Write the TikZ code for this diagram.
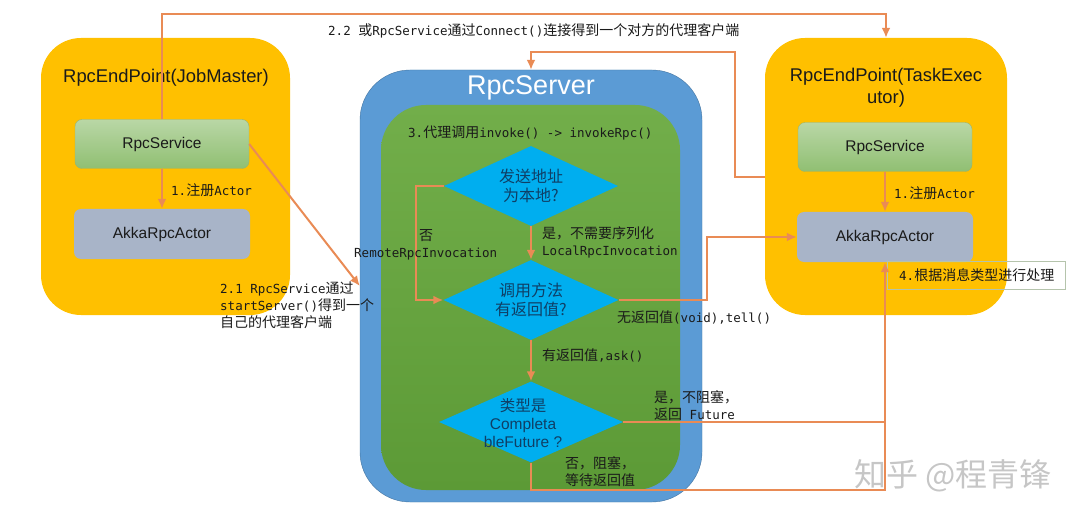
\documentclass[tikz,border=0pt]{standalone}
\usepackage{fontspec}
\setmainfont{Liberation Sans}
\setmonofont{DejaVu Sans Mono}
\newfontfamily\cjk{Noto Sans CJK SC}
\usetikzlibrary{shapes.geometric,arrows.meta}

\definecolor{amber}{HTML}{FFC000}
\definecolor{serverblue}{HTML}{5B9BD5}
\definecolor{flow}{HTML}{E98B55}
\definecolor{ink}{HTML}{1A1A1A}
\definecolor{choicefill}{HTML}{00AEEF}
\definecolor{choiceink}{HTML}{0F3F66}
\definecolor{serviceline}{HTML}{9DB36A}
\definecolor{servicetop}{HTML}{B9D7A6}
\definecolor{servicebottom}{HTML}{90BF72}
\definecolor{actorfill}{HTML}{A8B4C8}
\definecolor{innertop}{HTML}{72AE4A}
\definecolor{innerbottom}{HTML}{5C9A36}
\definecolor{boxline}{HTML}{B5C4AC}

\newcommand{\zh}[1]{{\cjk\fontsize{14}{17}\selectfont #1}}

\tikzset{
    endpoint/.style={fill=amber, rounded corners=40pt, minimum width=249pt, minimum height=277pt, inner sep=0pt},
    title/.style={font=\fontsize{18.4}{22}\selectfont, text=ink, align=center, inner sep=0pt},
    service/.style={draw=serviceline, top color=servicetop, bottom color=servicebottom, rounded corners=7pt, minimum width=174pt, minimum height=49pt, inner sep=0pt, font=\fontsize{15.5}{18}\selectfont, text=ink},
    actor/.style={fill=actorfill, rounded corners=7pt, minimum width=176pt, minimum height=50pt, inner sep=0pt, font=\fontsize{15.5}{18}\selectfont, text=ink},
    choice/.style={diamond, fill=choicefill, aspect=2.2, inner sep=0pt, align=center, text=choiceink, font=\fontsize{16}{19}\selectfont},
    note/.style={font=\ttfamily\fontsize{12.5}{17}\selectfont, text=ink, align=left, anchor=west, inner sep=0pt},
    flowline/.style={draw=flow, line width=2pt},
    flowarrow/.style={flowline, -{Latex[length=10pt,width=9pt]}},
}

\begin{document}
\begin{tikzpicture}[x=1pt,y=-1pt]

    \useasboundingbox (0,0) rectangle (1080,516);

    % Endpoints
    \node [endpoint] (epL) at (165.5,176.5) {};
    \node [endpoint, minimum width=242pt] (epR) at (886,176.5) {};
    \node [title] (titleL) at (166,78) {RpcEndPoint(JobMaster)};
    \node [title] (titleR) at (886,88) {RpcEndPoint(TaskExec\\utor)};

    % Services and actors
    \node [service] (svcL) at (162,144) {RpcService};
    \node [actor] (actL) at (162,234) {AkkaRpcActor};
    \node [service] (svcR) at (885,147) {RpcService};
    \node [actor] (actR) at (885,237) {AkkaRpcActor};

    % Server
    \node [fill=serverblue, draw=serverblue!75!black, rounded corners=50pt, minimum width=342pt, minimum height=432pt, inner sep=0pt] (server) at (531,286) {};
    \node [top color=innertop, bottom color=innerbottom, rounded corners=45pt, minimum width=299pt, minimum height=385pt, inner sep=0pt] (inner) at (530.5,297.5) {};
    \node [font=\fontsize{27}{30}\selectfont, text=white, inner sep=0pt] (serverName) at (531,88) {RpcServer};

    % Decisions
    \node [choice, minimum width=174pt, minimum height=80pt] (d1) at (531,186) {\cjk 发送地址\\\cjk 为本地?};
    \node [choice, minimum width=175pt, minimum height=80pt] (d2) at (531,300) {\cjk 调用方法\\\cjk 有返回值?};
    \node [choice, minimum width=184pt, minimum height=81pt] (d3) at (531,422) {};
    \node [align=center, text=choiceink, inner sep=0pt, font=\fontsize{15.5}{18}\selectfont] (d3text) at (523,423) {\cjk 类型是\\Completa\\bleFuture ?};

    % Note box
    \node [draw=boxline, minimum width=178pt, minimum height=28pt, inner sep=0pt] (box) at (976,275) {};

    % Bends
    \coordinate (top) at (500,14);
    \coordinate (backA) at (765,177);
    \coordinate (backB) at (735,52);
    \coordinate (noBend) at (416,240);
    \coordinate (voidBend) at (707,270);
    \coordinate (waitBend) at (700,490);

    % Connectors
    \draw [flowarrow] (svcL.north) |- (top) -| (epR.north);
    \draw [flowarrow] (backA) -| (backB) -| (server.north);
    \draw [flowarrow] (svcL.south) -- (actL.north);
    \draw [flowarrow] (svcR.south) -- (actR.north);
    \draw [flowarrow] (svcL.east) -- (server.west);
    \draw [flowarrow] (d1.south) -- (d2.north);
    \draw [flowarrow] (d1.west) -| (noBend) |- (d2.west);
    \draw [flowarrow] (d2.east) -| (voidBend) |- (actR.west);
    \draw [flowarrow] (d2.south) -- (d3.north);
    \draw [flowline] (d3.east) -- (d3.east -| actR.south);
    \draw [flowarrow] (d3.south) |- (waitBend) -| (actR.south);

    % Labels
    \node [note] (n22) at (328,31) {2.2 \zh{或}RpcService\zh{通过}Connect()\zh{连接得到一个对方的代理客户端}};
    \node [note] (n1L) at (171,190) {1.\zh{注册}Actor};
    \node [note] (n1R) at (894,193) {1.\zh{注册}Actor};
    \node [note] (n3) at (408,133) {3.\zh{代理调用}invoke() -> invokeRpc()};
    \node [note, anchor=center] (nNo) at (426,236) {\zh{否}};
    \node [note] (nRemote) at (354,254) {RemoteRpcInvocation};
    \node [note] (nLocal) at (542,242) {\zh{是，不需要序列化}\\LocalRpcInvocation};
    \node [note] (n21) at (220,305) {2.1 RpcService\zh{通过}\\startServer()\zh{得到一个}\\\zh{自己的代理客户端}};
    \node [note] (nVoid) at (617,317) {\zh{无返回值}(void),tell()};
    \node [note] (nAsk) at (542,355) {\zh{有返回值},ask()};
    \node [note] (nFuture) at (654,406) {\zh{是，不阻塞，}\\\zh{返回} Future};
    \node [note] (nBlock) at (565,472) {\zh{否，阻塞，}\\\zh{等待返回值}};
    \node [note] (n4) at (899,275) {4.\zh{根据消息类型进行处理}};

    % Watermark
    \node [font=\cjk\fontsize{32}{34}\selectfont, text=gray!45, inner sep=0pt] (mark) at (953,476) {知乎 @程青锋};

\end{tikzpicture}
\end{document}
